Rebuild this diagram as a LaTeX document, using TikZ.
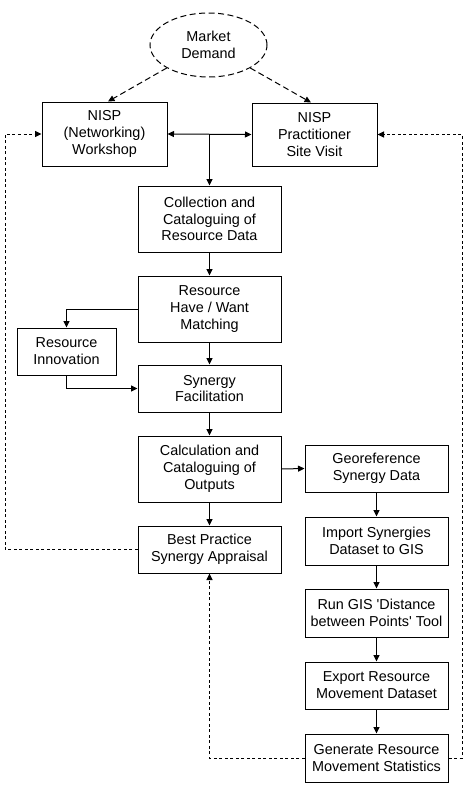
\documentclass[tikz,border=0pt]{standalone}
\usepackage{fontspec}
\newfontfamily\arialfont{Liberation Sans}
\usetikzlibrary{arrows.meta,shapes.geometric,calc}
\begin{document}
\begin{tikzpicture}[x=1pt,y=-1pt,
  every node/.style={font=\arialfont\fontsize{14.4}{16.8}\selectfont, align=center, inner sep=0pt},
  box/.style={draw, line width=1pt, minimum width=143pt},
  tipa/.style={-{Triangle[length=6.5pt,width=6pt]}},
  arr/.style={line width=1pt, tipa},
  longdash/.style={line width=1pt, dash pattern=on 6pt off 3.5pt},
  darr/.style={line width=1pt, dash pattern=on 3pt off 2.5pt, tipa}
]
\useasboundingbox (0,0) rectangle (474,795);
\fill[white] (0,0) rectangle (474,795);

\node[draw, ellipse, longdash, minimum width=117pt, minimum height=64pt] (md) at (208.5,45) {Market\\Demand};
\node[box, minimum width=125pt, minimum height=64pt] (ws) at (104.5,134) {NISP\\(Networking)\\Workshop};
\node[box, minimum width=125pt, minimum height=63pt] (pr) at (314.5,134.5) {NISP\\Practitioner\\Site Visit};
\node[box, minimum height=66pt] (col) at (209.5,219) {Collection and\\Cataloguing of\\Resource Data};
\node[box, minimum height=66pt] (hw) at (209.5,309) {Resource\\Have / Want\\Matching};
\node[box, minimum width=99pt, minimum height=47pt] (inn) at (66.5,351.5) {Resource\\Innovation};
\node[box, minimum height=47pt] (fac) at (209.5,388.5) {Synergy\\Facilitation};
\node[box, minimum height=66pt] (calc) at (209.5,469) {Calculation and\\Cataloguing of\\Outputs};
\node[box, minimum height=47pt] (bp) at (209.5,549.5) {Best Practice\\Synergy Appraisal};
\node[box, minimum height=47pt] (geo) at (376.5,468.5) {Georeference\\Synergy Data};
\node[box, minimum height=48pt] (imp) at (376.5,541) {Import Synergies\\Dataset to GIS};
\node[box, minimum height=48pt] (run) at (376.5,613) {Run GIS 'Distance\\between Points' Tool};
\node[box, minimum height=47pt] (exp) at (376.5,685.5) {Export Resource\\Movement Dataset};
\node[box, minimum height=48pt] (gen) at (376.5,758) {Generate Resource\\Movement Statistics};

\coordinate (L) at (5,0);
\coordinate (R) at (462,0);

\draw[longdash, tipa] (md.south west) -- ([xshift=3.5pt]ws.north);
\draw[longdash, tipa] (md.south east) -- ([xshift=-3.5pt]pr.north);
\draw[arr, {Triangle[length=6.5pt,width=6pt]}-{Triangle[length=6.5pt,width=6pt]}] (ws.east) -- (pr.west);
\draw[arr] (ws.east -| col.north) -- (col.north);
\draw[arr] (col.south) -- (hw.north);
\draw[arr] (hw.west) -| (inn.north);
\draw[arr] (hw.south) -- (fac.north);
\draw[arr] (inn.south) |- (fac.west);
\draw[arr] (fac.south) -- (calc.north);
\draw[arr] (calc.east) -- (geo.west);
\draw[arr] (calc.south) -- (bp.north);
\draw[arr] (geo.south) -- (imp.north);
\draw[arr] (imp.south) -- (run.north);
\draw[arr] (run.south) -- (exp.north);
\draw[arr] (exp.south) -- (gen.north);

\draw[darr] (bp.west) -- (bp.west -| L) -- (ws.west -| L) -- (ws.west);
\draw[darr] (gen.west) -| (bp.south);
\draw[darr] (gen.east) -- (gen.east -| R) -- (pr.east -| R) -- (pr.east);
\end{tikzpicture}
\end{document}
